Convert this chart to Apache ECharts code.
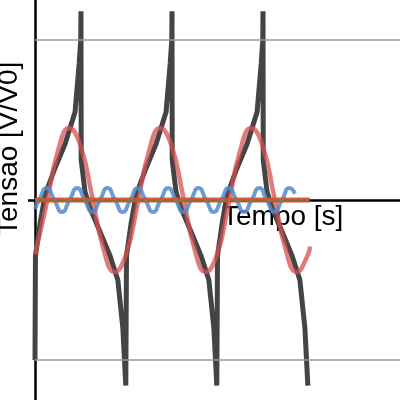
<!DOCTYPE html><html><head><meta charset="utf-8">
<script src="https://cdn.jsdelivr.net/npm/echarts@6/dist/echarts.min.js"></script>
<style>html,body{margin:0;padding:0;background:#fff}#c{width:400px;height:400px}</style></head><body><div id="c"></div>
<script>
// time in ms
const darkPeriodT=[0,0.1,1.1,2.2,4.4,6.6,8.8,9.7,10.05,10.1,10.15,11,12.1,14.3,16.5,18.2,19.3,19.95];
const darkPeriodV=[-1.15,-0.35,-0.15,0.03,0.2,0.35,0.55,0.85,1.0,1.18,0.25,0.05,-0.05,-0.2,-0.35,-0.5,-0.8,-1.16];
const redT=[0,2.5,5,7.5,10,12.5,15,17.5,20,22.5,25,27.5,30,32.5,35,37.5,40,42.5,45,47.5,50,52.5,55,57.5,60,60.4];
const redV=[-0.34,-0.03,0.30,0.45,0.34,0.03,-0.30,-0.45,-0.34,-0.03,0.30,0.45,0.34,0.03,-0.30,-0.45,-0.34,-0.03,0.30,0.45,0.34,0.03,-0.30,-0.45,-0.34,-0.29];
const blueT=[0,0.93,2.60,4.26,5.93,7.60,9.26,10.93,12.60,14.26,15.93,17.60,19.26,20.93,22.60,24.26,25.93,27.60,29.26,30.93,32.60,34.26,35.93,37.60,39.26,40.93,42.60,44.26,45.93,47.60,49.26,50.93,52.60,54.26,55.93,57.1];
const blueV=[-0.057,0,0.075,0,-0.075,0,0.075,0,-0.075,0,0.075,0,-0.075,0,0.075,0,-0.075,0,0.075,0,-0.075,0,0.075,0,-0.075,0,0.075,0,-0.075,0,0.075,0,-0.075,0,0.075,0.04];
const flatT=[0,60.4];
const flatV=[0,0];
const gridLines=[-1,1];
const periodStarts=[0,20,40];

const dark=[];
periodStarts.forEach(p=>darkPeriodT.forEach((t,i)=>dark.push([(p+t)/1000,(p===0&&i===0)?-1.0:darkPeriodV[i]])));
const z=(T,V)=>T.map((t,i)=>[t/1000,V[i]]);
const ch=echarts.init(document.getElementById('c'));
ch.setOption({animation:false,
grid:{left:35,right:0,top:0,bottom:0},
xAxis:{type:'value',min:0,max:0.0802,axisLine:{onZero:true,lineStyle:{color:'#000',width:2.5}},axisTick:{show:false},axisLabel:{show:false},splitLine:{show:false}},
yAxis:{type:'value',min:-1.25,max:1.25,interval:1.25,axisLine:{show:true,lineStyle:{color:'#000',width:2.5}},axisTick:{show:true,customValues:[0],length:7,lineStyle:{color:'#000',width:2.5}},axisLabel:{show:false},splitLine:{show:false}},
series:[
{type:'line',data:dark,showSymbol:false,lineStyle:{color:'#444',width:5},z:2},
{type:'line',data:z(redT,redV),smooth:0.5,showSymbol:false,lineStyle:{color:'rgba(214,80,80,0.75)',width:4.5},z:3},
{type:'line',data:z(blueT,blueV),smooth:0.6,showSymbol:false,lineStyle:{color:'rgba(80,140,205,0.85)',width:4},z:4},
{type:'line',data:z(flatT,flatV),showSymbol:false,lineStyle:{color:'rgba(210,80,50,0.9)',width:5},z:5,
 markLine:{silent:true,symbol:'none',label:{show:false},lineStyle:{color:'#999',width:1.5,type:'solid'},data:gridLines.map(v=>({yAxis:v}))}},
{type:'line',data:z(flatT,flatV),showSymbol:false,lineStyle:{color:'#4a4',width:1,type:'dashed'},z:6}
],
graphic:[
{type:'text',left:222,top:203,style:{text:'Tempo [s]',font:'28px "Liberation Sans"',fill:'#000'}},
{type:'text',x:-5,y:236,rotation:Math.PI/2,style:{text:'Tensao [V/V0]',font:'28px "Liberation Sans"',fill:'#000'}}
]});
</script></body></html>
